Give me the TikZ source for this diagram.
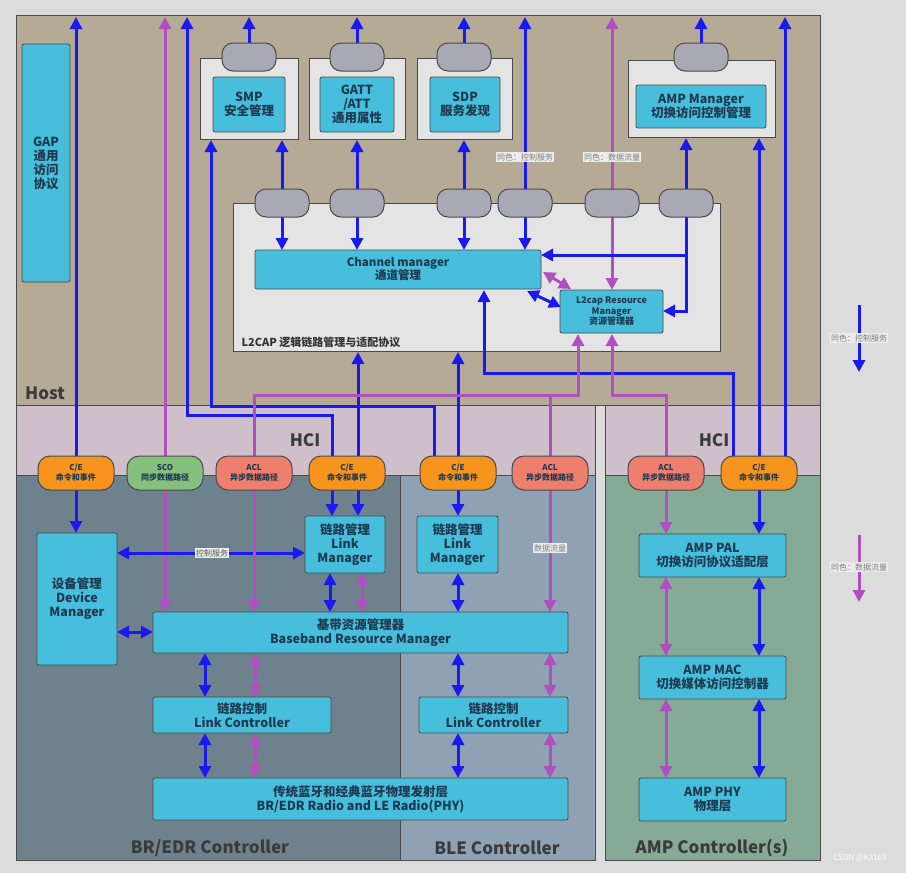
\documentclass[tikz,border=0pt]{standalone}
\usepackage{fontspec}
\setmainfont{Noto Sans CJK SC}
\usetikzlibrary{arrows.meta}
\definecolor{bgc}{HTML}{DCDCDC}
\definecolor{hostc}{HTML}{B5AA96}
\definecolor{hcic}{HTML}{CFBFCB}
\definecolor{brc}{HTML}{6E828E}
\definecolor{blec}{HTML}{8EA2B3}
\definecolor{ampc}{HTML}{85AA96}
\definecolor{cyanc}{HTML}{47BEDB}
\definecolor{lightc}{HTML}{E4E4E4}
\definecolor{pillc}{HTML}{A9A9B5}
\definecolor{orc}{HTML}{F7941D}
\definecolor{grc}{HTML}{86C07E}
\definecolor{rdc}{HTML}{EE7F6F}
\definecolor{bluc}{HTML}{1A1AF0}
\definecolor{magc}{HTML}{B050C0}
\definecolor{txc}{HTML}{1E3A50}
\definecolor{edc}{HTML}{4A4A4A}
\tikzset{
 region/.style={draw=edc,line width=0.8pt},
 outer/.style={draw=edc,fill=lightc,line width=0.8pt,minimum height=81pt},
 box/.style={draw=edc,fill=cyanc,line width=0.8pt,rounded corners=2pt,align=center,text=txc,font=\fontsize{12.5}{14}\selectfont\bfseries,inner sep=1pt},
 tpill/.style={draw=edc,fill=pillc,line width=1pt,rounded corners=11pt,minimum width=54pt,minimum height=28pt},
 hpill/.style={draw=edc,line width=1pt,rounded corners=12pt,minimum width=76pt,minimum height=34pt,align=center,text=txc,font=\fontsize{8}{10}\selectfont\bfseries,inner sep=0pt},
 blu/.style={draw=bluc,line width=3pt,arrows={-Triangle[width=12pt,length=12pt]}},
 mag/.style={draw=magc,line width=3pt,arrows={-Triangle[width=12pt,length=12pt]}},
 both/.style={arrows={Triangle[width=12pt,length=12pt]-Triangle[width=12pt,length=12pt]}},
 plain/.style={arrows=-},
 reg/.style={text=edc!80!black,font=\fontsize{17}{19}\selectfont\bfseries},
 note/.style={fill=white!85!gray,text=gray,font=\fontsize{8}{9}\selectfont,inner sep=1pt}
}
\begin{document}
\begin{tikzpicture}[x=1pt,y=-1pt]
\fill[bgc] (0,0) rectangle (906,873);
\useasboundingbox (0,0) rectangle (906,873);
% regions
\draw[region,fill=hostc] (16,15) rectangle (820,405);
\draw[region,fill=hcic] (16,405) rectangle (595,475);
\draw[region,fill=hcic] (605,405) rectangle (820,475);
\draw[region,fill=brc] (16,475) rectangle (400,860);
\draw[region,fill=blec] (400,475) rectangle (595,860);
\draw[region,fill=ampc] (605,475) rectangle (820,860);
\node[reg] (lhost) at (45,393) {Host};
\node[reg] (lhci1) at (305,440) {HCI};
\node[reg] (lhci2) at (714,440) {HCI};
\node[reg] (lbr) at (210,848) {BR/EDR Controller};
\node[reg] (lble) at (497,848) {BLE Controller};
\node[reg] (lamp) at (712,848) {AMP Controller(s)};
% outer boxes
\node[outer,minimum width=98pt] (smpo) at (249,98.5) {};
\node[outer,minimum width=96pt] (gatto) at (357,98.5) {};
\node[outer,minimum width=95pt] (sdpo) at (464.5,98.5) {};
\node[outer,minimum width=147pt,minimum height=77pt] (ampmo) at (701.5,98.5) {};
\node[outer,minimum width=487pt,minimum height=148pt] (l2) at (476.5,277) {};
\node[anchor=west,text=edc!70!black,font=\fontsize{11}{13}\selectfont\bfseries] (l2t) at (238,342) {L2CAP 逻辑链路管理与适配协议};
% host lines
\draw[blu] (76,457) -- (76,17);
\draw[blu] (76,490) -- (76,533);
\draw[mag] (165,457) -- (165,17);
\draw[mag] (165,490) -- (165,612);
\draw[blu] (332,457) |- (187,415) -- (187,17);
\draw[blu] (434,457) |- (211,406) -- (211,140);
\draw[blu] (358,457) -- (358,352);
\draw[blu] (458,457) -- (458,352);
\draw[blu] (733,457) |- (484,373) -- (484,290);
\draw[blu] (759,457) -- (759,138);
\draw[blu] (785,457) -- (785,17);
\draw[mag] (254,457) |- (578,395) -- (578,334);
\draw[mag,plain] (550,457) -- (550,395);
\draw[mag] (666,457) |- (612,395) -- (612,334);
\foreach \x in {249,357,464,701} \draw[blu] (\x,45) -- (\x,17);
\foreach \x in {282,357,464} {\draw[blu] (\x,203) -- (\x,140); \draw[blu] (\x,203) -- (\x,250);}
\draw[blu] (525,203) -- (525,17);
\draw[blu] (525,203) -- (525,250);
\draw[mag] (612,203) -- (612,17);
\draw[mag] (612,203) -- (612,290);
\draw[blu] (686,203) -- (686,138);
\draw[blu] (686,203) |- (663,311);
\draw[blu] (686,255) -- (541,255);
\draw[blu,both] (527,291) -- (561,307);
\draw[mag,both] (543,272) -- (571,289);
\node[note] (n1) at (525,157) {同色：控制服务};
\node[note] (n2) at (612,157) {同色：数据流量};
% top pills
\foreach \x/\n in {249/p1,357/p2,464/p3,701/p4} \node[tpill] (\n) at (\x,57) {};
\foreach \x/\n in {282/q1,357/q2,464/q3,525/q4,612/q5,686/q6} \node[tpill] (\n) at (\x,203) {};
% host boxes
\node[box,minimum width=48pt,minimum height=238pt] (gap) at (46,163) {GAP\\通用\\访问\\协议};
\node[box,minimum width=72pt,minimum height=55pt] (smp) at (249,104.5) {SMP\\安全管理};
\node[box,minimum width=74pt,minimum height=55pt] (gatt) at (357,104.5) {GATT\\/ATT\\通用属性};
\node[box,minimum width=70pt,minimum height=55pt] (sdp) at (465,104.5) {SDP\\服务发现};
\node[box,minimum width=130pt,minimum height=43pt] (ampm) at (701,106.5) {AMP Manager\\切换访问控制管理};
\node[box,minimum width=286pt,minimum height=39pt,font=\fontsize{11.5}{13}\selectfont\bfseries] (cm) at (398,269.5) {Channel manager\\通道管理};
\node[box,minimum width=103pt,minimum height=43pt,font=\fontsize{9}{10.5}\selectfont\bfseries] (rm) at (611.5,311.5) {L2cap Resource\\Manager\\资源管理器};
% controller lines
\draw[blu] (332,490) -- (332,516);
\draw[blu] (358,490) -- (358,516);
\draw[blu] (458,490) -- (458,516);
\draw[blu,both] (117,553) -- (305,553);
\node[note,text=gray!70!black] (n3) at (212,553) {控制服务};
\draw[blu,both] (117,632) -- (153,632);
\draw[blu,both] (330,573) -- (330,612);
\draw[mag,both] (362,573) -- (362,612);
\draw[blu,both] (458,573) -- (458,612);
\draw[mag] (254,490) -- (254,612);
\draw[mag] (550,490) -- (550,612);
\node[note] (n4) at (550,548) {数据流量};
\foreach \x/\c in {205/blu,255/mag,458/blu,550/mag} {\draw[\c,both] (\x,653) -- (\x,697); \draw[\c,both] (\x,733) -- (\x,778);}
\draw[mag] (666,490) -- (666,534);
\draw[blu] (759,490) -- (759,534);
\draw[mag,both] (666,577) -- (666,656);
\draw[blu,both] (759,577) -- (759,656);
\draw[mag,both] (666,699) -- (666,778);
\draw[blu,both] (759,699) -- (759,778);
% HCI pills
\node[hpill,fill=orc] (ce1) at (76,473) {C/E\\命令和事件};
\node[hpill,fill=grc] (sco) at (165,473) {SCO\\同步数据路径};
\node[hpill,fill=rdc] (acl1) at (254,473) {ACL\\异步数据路径};
\node[hpill,fill=orc] (ce2) at (347,473) {C/E\\命令和事件};
\node[hpill,fill=orc] (ce3) at (458,473) {C/E\\命令和事件};
\node[hpill,fill=rdc] (acl2) at (550,473) {ACL\\异步数据路径};
\node[hpill,fill=rdc] (acl3) at (666,473) {ACL\\异步数据路径};
\node[hpill,fill=orc] (ce4) at (759,473) {C/E\\命令和事件};
% controller boxes
\node[box,minimum width=80pt,minimum height=132pt] (dm) at (77,599) {设备管理\\Device\\Manager};
\node[box,minimum width=80pt,minimum height=57pt] (lm) at (345,544.5) {链路管理\\Link\\Manager};
\node[box,minimum width=81pt,minimum height=57pt] (blm) at (457.5,544.5) {链路管理\\Link\\Manager};
\node[box,minimum width=415pt,minimum height=41pt] (bb) at (360.5,632.5) {基带资源管理器\\Baseband Resource Manager};
\node[box,minimum width=178pt,minimum height=36pt] (lc) at (242,715) {链路控制\\Link Controller};
\node[box,minimum width=149pt,minimum height=36pt] (blc) at (493.5,715) {链路控制\\Link Controller};
\node[box,minimum width=415pt,minimum height=42pt] (radio) at (360.5,799) {传统蓝牙和经典蓝牙物理发射层\\BR/EDR Radio and LE Radio(PHY)};
\node[box,minimum width=147pt,minimum height=43pt] (pal) at (712.5,555.5) {AMP PAL\\切换访问协议适配层};
\node[box,minimum width=147pt,minimum height=43pt] (mac) at (712.5,677.5) {AMP MAC\\切换媒体访问控制器};
\node[box,minimum width=147pt,minimum height=43pt] (phy) at (712.5,799.5) {AMP PHY\\物理层};
% legend
\coordinate (la1) at (859,305); \coordinate (la2) at (859,372);
\draw[blu] (la1) -- (la2);
\node[note] (n5) at (859,338) {同色：控制服务};
\coordinate (lb1) at (859,535); \coordinate (lb2) at (859,602);
\draw[mag] (lb1) -- (lb2);
\node[note] (n6) at (859,567) {同色：数据流量};
\node[text=white,font=\fontsize{8}{9}\selectfont] (wm) at (860,858) {CSDN @K3169};
\end{tikzpicture}
\end{document}
